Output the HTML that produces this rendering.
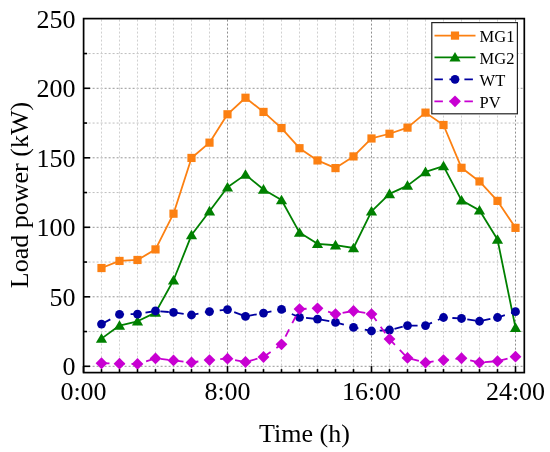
<!DOCTYPE html>
<html><head><meta charset="utf-8"><title>Load power</title>
<style>
html,body{margin:0;padding:0;background:#fff;}
body{width:550px;height:452px;overflow:hidden;}
svg{display:block;}
</style></head><body>
<svg width="550" height="452" viewBox="0 0 550 452">
<rect width="550" height="452" fill="#fff"/>
<line x1="84.6" y1="366.3" x2="523.3" y2="366.3" stroke="#969696" stroke-width="1" stroke-dasharray="2 2"/>
<line x1="84.6" y1="331.55" x2="523.3" y2="331.55" stroke="#bebebe" stroke-width="1" stroke-dasharray="2 2"/>
<line x1="84.6" y1="296.8" x2="523.3" y2="296.8" stroke="#969696" stroke-width="1" stroke-dasharray="2 2"/>
<line x1="84.6" y1="262.05" x2="523.3" y2="262.05" stroke="#bebebe" stroke-width="1" stroke-dasharray="2 2"/>
<line x1="84.6" y1="227.3" x2="523.3" y2="227.3" stroke="#969696" stroke-width="1" stroke-dasharray="2 2"/>
<line x1="84.6" y1="192.55" x2="523.3" y2="192.55" stroke="#bebebe" stroke-width="1" stroke-dasharray="2 2"/>
<line x1="84.6" y1="157.8" x2="523.3" y2="157.8" stroke="#969696" stroke-width="1" stroke-dasharray="2 2"/>
<line x1="84.6" y1="123.05" x2="523.3" y2="123.05" stroke="#bebebe" stroke-width="1" stroke-dasharray="2 2"/>
<line x1="84.6" y1="88.3" x2="523.3" y2="88.3" stroke="#969696" stroke-width="1" stroke-dasharray="2 2"/>
<line x1="84.6" y1="53.55" x2="523.3" y2="53.55" stroke="#bebebe" stroke-width="1" stroke-dasharray="2 2"/>
<line x1="101.5" y1="19.6" x2="101.5" y2="371.6" stroke="#d0d0d0" stroke-width="1" stroke-dasharray="2 2"/>
<line x1="119.5" y1="19.6" x2="119.5" y2="371.6" stroke="#d0d0d0" stroke-width="1" stroke-dasharray="2 2"/>
<line x1="137.5" y1="19.6" x2="137.5" y2="371.6" stroke="#d0d0d0" stroke-width="1" stroke-dasharray="2 2"/>
<line x1="155.5" y1="19.6" x2="155.5" y2="371.6" stroke="#d0d0d0" stroke-width="1" stroke-dasharray="2 2"/>
<line x1="173.5" y1="19.6" x2="173.5" y2="371.6" stroke="#d0d0d0" stroke-width="1" stroke-dasharray="2 2"/>
<line x1="191.5" y1="19.6" x2="191.5" y2="371.6" stroke="#d0d0d0" stroke-width="1" stroke-dasharray="2 2"/>
<line x1="209.5" y1="19.6" x2="209.5" y2="371.6" stroke="#d0d0d0" stroke-width="1" stroke-dasharray="2 2"/>
<line x1="227.5" y1="19.6" x2="227.5" y2="371.6" stroke="#8f8f8f" stroke-width="1" stroke-dasharray="2 2"/>
<line x1="245.5" y1="19.6" x2="245.5" y2="371.6" stroke="#d0d0d0" stroke-width="1" stroke-dasharray="2 2"/>
<line x1="263.5" y1="19.6" x2="263.5" y2="371.6" stroke="#d0d0d0" stroke-width="1" stroke-dasharray="2 2"/>
<line x1="281.5" y1="19.6" x2="281.5" y2="371.6" stroke="#d0d0d0" stroke-width="1" stroke-dasharray="2 2"/>
<line x1="299.5" y1="19.6" x2="299.5" y2="371.6" stroke="#d0d0d0" stroke-width="1" stroke-dasharray="2 2"/>
<line x1="317.5" y1="19.6" x2="317.5" y2="371.6" stroke="#d0d0d0" stroke-width="1" stroke-dasharray="2 2"/>
<line x1="335.5" y1="19.6" x2="335.5" y2="371.6" stroke="#d0d0d0" stroke-width="1" stroke-dasharray="2 2"/>
<line x1="353.5" y1="19.6" x2="353.5" y2="371.6" stroke="#d0d0d0" stroke-width="1" stroke-dasharray="2 2"/>
<line x1="371.5" y1="19.6" x2="371.5" y2="371.6" stroke="#8f8f8f" stroke-width="1" stroke-dasharray="2 2"/>
<line x1="389.5" y1="19.6" x2="389.5" y2="371.6" stroke="#d0d0d0" stroke-width="1" stroke-dasharray="2 2"/>
<line x1="407.5" y1="19.6" x2="407.5" y2="371.6" stroke="#d0d0d0" stroke-width="1" stroke-dasharray="2 2"/>
<line x1="425.5" y1="19.6" x2="425.5" y2="371.6" stroke="#d0d0d0" stroke-width="1" stroke-dasharray="2 2"/>
<line x1="443.5" y1="19.6" x2="443.5" y2="371.6" stroke="#d0d0d0" stroke-width="1" stroke-dasharray="2 2"/>
<line x1="461.5" y1="19.6" x2="461.5" y2="371.6" stroke="#d0d0d0" stroke-width="1" stroke-dasharray="2 2"/>
<line x1="479.5" y1="19.6" x2="479.5" y2="371.6" stroke="#d0d0d0" stroke-width="1" stroke-dasharray="2 2"/>
<line x1="497.5" y1="19.6" x2="497.5" y2="371.6" stroke="#d0d0d0" stroke-width="1" stroke-dasharray="2 2"/>
<line x1="515.5" y1="19.6" x2="515.5" y2="371.6" stroke="#8f8f8f" stroke-width="1" stroke-dasharray="2 2"/>
<polyline points="101.5,268.03 119.5,260.94 137.5,259.97 155.5,249.4 173.5,213.68 191.5,157.94 209.5,142.65 227.5,114.29 245.5,97.75 263.5,111.93 281.5,128.05 299.5,148.21 317.5,160.44 335.5,168.09 353.5,156.41 371.5,138.48 389.5,133.75 407.5,127.64 425.5,112.63 443.5,125 461.5,167.81 479.5,181.43 497.5,200.89 515.5,227.86" fill="none" stroke="#fc8012" stroke-width="1.8" stroke-linejoin="round"/>
<rect x="97.4" y="263.93" width="8.2" height="8.2" fill="#fc8012"/>
<rect x="115.4" y="256.84" width="8.2" height="8.2" fill="#fc8012"/>
<rect x="133.4" y="255.87" width="8.2" height="8.2" fill="#fc8012"/>
<rect x="151.4" y="245.3" width="8.2" height="8.2" fill="#fc8012"/>
<rect x="169.4" y="209.58" width="8.2" height="8.2" fill="#fc8012"/>
<rect x="187.4" y="153.84" width="8.2" height="8.2" fill="#fc8012"/>
<rect x="205.4" y="138.55" width="8.2" height="8.2" fill="#fc8012"/>
<rect x="223.4" y="110.19" width="8.2" height="8.2" fill="#fc8012"/>
<rect x="241.4" y="93.65" width="8.2" height="8.2" fill="#fc8012"/>
<rect x="259.4" y="107.83" width="8.2" height="8.2" fill="#fc8012"/>
<rect x="277.4" y="123.95" width="8.2" height="8.2" fill="#fc8012"/>
<rect x="295.4" y="144.11" width="8.2" height="8.2" fill="#fc8012"/>
<rect x="313.4" y="156.34" width="8.2" height="8.2" fill="#fc8012"/>
<rect x="331.4" y="163.99" width="8.2" height="8.2" fill="#fc8012"/>
<rect x="349.4" y="152.31" width="8.2" height="8.2" fill="#fc8012"/>
<rect x="367.4" y="134.38" width="8.2" height="8.2" fill="#fc8012"/>
<rect x="385.4" y="129.65" width="8.2" height="8.2" fill="#fc8012"/>
<rect x="403.4" y="123.54" width="8.2" height="8.2" fill="#fc8012"/>
<rect x="421.4" y="108.53" width="8.2" height="8.2" fill="#fc8012"/>
<rect x="439.4" y="120.9" width="8.2" height="8.2" fill="#fc8012"/>
<rect x="457.4" y="163.71" width="8.2" height="8.2" fill="#fc8012"/>
<rect x="475.4" y="177.33" width="8.2" height="8.2" fill="#fc8012"/>
<rect x="493.4" y="196.79" width="8.2" height="8.2" fill="#fc8012"/>
<rect x="511.4" y="223.76" width="8.2" height="8.2" fill="#fc8012"/>
<polyline points="101.5,338.64 119.5,325.57 137.5,321.26 155.5,312.65 173.5,280.26 191.5,235.08 209.5,211.18 227.5,187.27 245.5,174.62 263.5,189.49 281.5,200.06 299.5,232.58 317.5,243.84 335.5,245.23 353.5,248.01 371.5,211.32 389.5,193.94 407.5,185.6 425.5,171.98 443.5,166.14 461.5,200.33 479.5,210.34 497.5,239.53 515.5,327.66" fill="none" stroke="#008000" stroke-width="1.8" stroke-linejoin="round"/>
<polygon points="101.5,333.26 107.1,342.86 95.9,342.86" fill="#008000"/>
<polygon points="119.5,320.2 125.1,329.8 113.9,329.8" fill="#008000"/>
<polygon points="137.5,315.89 143.1,325.49 131.9,325.49" fill="#008000"/>
<polygon points="155.5,307.27 161.1,316.87 149.9,316.87" fill="#008000"/>
<polygon points="173.5,274.88 179.1,284.48 167.9,284.48" fill="#008000"/>
<polygon points="191.5,229.71 197.1,239.31 185.9,239.31" fill="#008000"/>
<polygon points="209.5,205.8 215.1,215.4 203.9,215.4" fill="#008000"/>
<polygon points="227.5,181.89 233.1,191.49 221.9,191.49" fill="#008000"/>
<polygon points="245.5,169.24 251.1,178.84 239.9,178.84" fill="#008000"/>
<polygon points="263.5,184.12 269.1,193.72 257.9,193.72" fill="#008000"/>
<polygon points="281.5,194.68 287.1,204.28 275.9,204.28" fill="#008000"/>
<polygon points="299.5,227.21 305.1,236.81 293.9,236.81" fill="#008000"/>
<polygon points="317.5,238.47 323.1,248.06 311.9,248.06" fill="#008000"/>
<polygon points="335.5,239.86 341.1,249.46 329.9,249.46" fill="#008000"/>
<polygon points="353.5,242.64 359.1,252.24 347.9,252.24" fill="#008000"/>
<polygon points="371.5,205.94 377.1,215.54 365.9,215.54" fill="#008000"/>
<polygon points="389.5,188.56 395.1,198.16 383.9,198.16" fill="#008000"/>
<polygon points="407.5,180.22 413.1,189.82 401.9,189.82" fill="#008000"/>
<polygon points="425.5,166.6 431.1,176.2 419.9,176.2" fill="#008000"/>
<polygon points="443.5,160.76 449.1,170.36 437.9,170.36" fill="#008000"/>
<polygon points="461.5,194.96 467.1,204.56 455.9,204.56" fill="#008000"/>
<polygon points="479.5,204.97 485.1,214.57 473.9,214.57" fill="#008000"/>
<polygon points="497.5,234.16 503.1,243.76 491.9,243.76" fill="#008000"/>
<polygon points="515.5,322.28 521.1,331.88 509.9,331.88" fill="#008000"/>
<polyline points="101.5,324.04 119.5,314.45 137.5,314.04 155.5,310.98 173.5,312.37 191.5,315.01 209.5,311.53 227.5,309.59 245.5,316.4 263.5,313.06 281.5,309.45 299.5,317.37 317.5,319.04 335.5,322.38 353.5,327.38 371.5,330.99 389.5,330.02 407.5,325.57 425.5,325.57 443.5,317.51 461.5,318.48 479.5,321.26 497.5,317.51 515.5,311.67" fill="none" stroke="#0000a0" stroke-width="1.8" stroke-dasharray="8.5 6.5" stroke-dashoffset="13.5"/>
<circle cx="101.5" cy="324.04" r="4.4" fill="#0000a0"/>
<circle cx="119.5" cy="314.45" r="4.4" fill="#0000a0"/>
<circle cx="137.5" cy="314.04" r="4.4" fill="#0000a0"/>
<circle cx="155.5" cy="310.98" r="4.4" fill="#0000a0"/>
<circle cx="173.5" cy="312.37" r="4.4" fill="#0000a0"/>
<circle cx="191.5" cy="315.01" r="4.4" fill="#0000a0"/>
<circle cx="209.5" cy="311.53" r="4.4" fill="#0000a0"/>
<circle cx="227.5" cy="309.59" r="4.4" fill="#0000a0"/>
<circle cx="245.5" cy="316.4" r="4.4" fill="#0000a0"/>
<circle cx="263.5" cy="313.06" r="4.4" fill="#0000a0"/>
<circle cx="281.5" cy="309.45" r="4.4" fill="#0000a0"/>
<circle cx="299.5" cy="317.37" r="4.4" fill="#0000a0"/>
<circle cx="317.5" cy="319.04" r="4.4" fill="#0000a0"/>
<circle cx="335.5" cy="322.38" r="4.4" fill="#0000a0"/>
<circle cx="353.5" cy="327.38" r="4.4" fill="#0000a0"/>
<circle cx="371.5" cy="330.99" r="4.4" fill="#0000a0"/>
<circle cx="389.5" cy="330.02" r="4.4" fill="#0000a0"/>
<circle cx="407.5" cy="325.57" r="4.4" fill="#0000a0"/>
<circle cx="425.5" cy="325.57" r="4.4" fill="#0000a0"/>
<circle cx="443.5" cy="317.51" r="4.4" fill="#0000a0"/>
<circle cx="461.5" cy="318.48" r="4.4" fill="#0000a0"/>
<circle cx="479.5" cy="321.26" r="4.4" fill="#0000a0"/>
<circle cx="497.5" cy="317.51" r="4.4" fill="#0000a0"/>
<circle cx="515.5" cy="311.67" r="4.4" fill="#0000a0"/>
<polyline points="101.5,363.24 119.5,363.66 137.5,363.94 155.5,358.38 173.5,360.46 191.5,362.41 209.5,360.05 227.5,358.66 245.5,361.99 263.5,356.99 281.5,344.34 299.5,309.03 317.5,308.34 335.5,314.04 353.5,310.98 371.5,314.04 389.5,339.06 407.5,357.96 425.5,362.55 443.5,360.05 461.5,358.24 479.5,362.55 497.5,361.16 515.5,356.71" fill="none" stroke="#c800d2" stroke-width="1.8" stroke-dasharray="8 7"/>
<polygon points="101.5,357.34 107.4,363.24 101.5,369.14 95.6,363.24" fill="#c800d2"/>
<polygon points="119.5,357.76 125.4,363.66 119.5,369.56 113.6,363.66" fill="#c800d2"/>
<polygon points="137.5,358.04 143.4,363.94 137.5,369.84 131.6,363.94" fill="#c800d2"/>
<polygon points="155.5,352.48 161.4,358.38 155.5,364.28 149.6,358.38" fill="#c800d2"/>
<polygon points="173.5,354.56 179.4,360.46 173.5,366.36 167.6,360.46" fill="#c800d2"/>
<polygon points="191.5,356.51 197.4,362.41 191.5,368.31 185.6,362.41" fill="#c800d2"/>
<polygon points="209.5,354.15 215.4,360.05 209.5,365.94 203.6,360.05" fill="#c800d2"/>
<polygon points="227.5,352.76 233.4,358.66 227.5,364.56 221.6,358.66" fill="#c800d2"/>
<polygon points="245.5,356.09 251.4,361.99 245.5,367.89 239.6,361.99" fill="#c800d2"/>
<polygon points="263.5,351.09 269.4,356.99 263.5,362.89 257.6,356.99" fill="#c800d2"/>
<polygon points="281.5,338.44 287.4,344.34 281.5,350.24 275.6,344.34" fill="#c800d2"/>
<polygon points="299.5,303.13 305.4,309.03 299.5,314.93 293.6,309.03" fill="#c800d2"/>
<polygon points="317.5,302.44 323.4,308.34 317.5,314.24 311.6,308.34" fill="#c800d2"/>
<polygon points="335.5,308.14 341.4,314.04 335.5,319.94 329.6,314.04" fill="#c800d2"/>
<polygon points="353.5,305.08 359.4,310.98 353.5,316.88 347.6,310.98" fill="#c800d2"/>
<polygon points="371.5,308.14 377.4,314.04 371.5,319.94 365.6,314.04" fill="#c800d2"/>
<polygon points="389.5,333.16 395.4,339.06 389.5,344.96 383.6,339.06" fill="#c800d2"/>
<polygon points="407.5,352.06 413.4,357.96 407.5,363.86 401.6,357.96" fill="#c800d2"/>
<polygon points="425.5,356.65 431.4,362.55 425.5,368.45 419.6,362.55" fill="#c800d2"/>
<polygon points="443.5,354.15 449.4,360.05 443.5,365.94 437.6,360.05" fill="#c800d2"/>
<polygon points="461.5,352.34 467.4,358.24 461.5,364.14 455.6,358.24" fill="#c800d2"/>
<polygon points="479.5,356.65 485.4,362.55 479.5,368.45 473.6,362.55" fill="#c800d2"/>
<polygon points="497.5,355.26 503.4,361.16 497.5,367.06 491.6,361.16" fill="#c800d2"/>
<polygon points="515.5,350.81 521.4,356.71 515.5,362.61 509.6,356.71" fill="#c800d2"/>
<rect x="83.6" y="18.6" width="440.7" height="354" fill="none" stroke="#000" stroke-width="1.7"/>
<line x1="83.6" y1="366.3" x2="90.1" y2="366.3" stroke="#000" stroke-width="1.6"/>
<line x1="83.6" y1="331.55" x2="87.1" y2="331.55" stroke="#000" stroke-width="1.6"/>
<line x1="83.6" y1="296.8" x2="90.1" y2="296.8" stroke="#000" stroke-width="1.6"/>
<line x1="83.6" y1="262.05" x2="87.1" y2="262.05" stroke="#000" stroke-width="1.6"/>
<line x1="83.6" y1="227.3" x2="90.1" y2="227.3" stroke="#000" stroke-width="1.6"/>
<line x1="83.6" y1="192.55" x2="87.1" y2="192.55" stroke="#000" stroke-width="1.6"/>
<line x1="83.6" y1="157.8" x2="90.1" y2="157.8" stroke="#000" stroke-width="1.6"/>
<line x1="83.6" y1="123.05" x2="87.1" y2="123.05" stroke="#000" stroke-width="1.6"/>
<line x1="83.6" y1="88.3" x2="90.1" y2="88.3" stroke="#000" stroke-width="1.6"/>
<line x1="83.6" y1="53.55" x2="87.1" y2="53.55" stroke="#000" stroke-width="1.6"/>
<line x1="83.5" y1="372.6" x2="83.5" y2="366.1" stroke="#000" stroke-width="1.6"/>
<line x1="101.5" y1="372.6" x2="101.5" y2="369.1" stroke="#000" stroke-width="1.6"/>
<line x1="119.5" y1="372.6" x2="119.5" y2="369.1" stroke="#000" stroke-width="1.6"/>
<line x1="137.5" y1="372.6" x2="137.5" y2="369.1" stroke="#000" stroke-width="1.6"/>
<line x1="155.5" y1="372.6" x2="155.5" y2="369.1" stroke="#000" stroke-width="1.6"/>
<line x1="173.5" y1="372.6" x2="173.5" y2="369.1" stroke="#000" stroke-width="1.6"/>
<line x1="191.5" y1="372.6" x2="191.5" y2="369.1" stroke="#000" stroke-width="1.6"/>
<line x1="209.5" y1="372.6" x2="209.5" y2="369.1" stroke="#000" stroke-width="1.6"/>
<line x1="227.5" y1="372.6" x2="227.5" y2="366.1" stroke="#000" stroke-width="1.6"/>
<line x1="245.5" y1="372.6" x2="245.5" y2="369.1" stroke="#000" stroke-width="1.6"/>
<line x1="263.5" y1="372.6" x2="263.5" y2="369.1" stroke="#000" stroke-width="1.6"/>
<line x1="281.5" y1="372.6" x2="281.5" y2="369.1" stroke="#000" stroke-width="1.6"/>
<line x1="299.5" y1="372.6" x2="299.5" y2="369.1" stroke="#000" stroke-width="1.6"/>
<line x1="317.5" y1="372.6" x2="317.5" y2="369.1" stroke="#000" stroke-width="1.6"/>
<line x1="335.5" y1="372.6" x2="335.5" y2="369.1" stroke="#000" stroke-width="1.6"/>
<line x1="353.5" y1="372.6" x2="353.5" y2="369.1" stroke="#000" stroke-width="1.6"/>
<line x1="371.5" y1="372.6" x2="371.5" y2="366.1" stroke="#000" stroke-width="1.6"/>
<line x1="389.5" y1="372.6" x2="389.5" y2="369.1" stroke="#000" stroke-width="1.6"/>
<line x1="407.5" y1="372.6" x2="407.5" y2="369.1" stroke="#000" stroke-width="1.6"/>
<line x1="425.5" y1="372.6" x2="425.5" y2="369.1" stroke="#000" stroke-width="1.6"/>
<line x1="443.5" y1="372.6" x2="443.5" y2="369.1" stroke="#000" stroke-width="1.6"/>
<line x1="461.5" y1="372.6" x2="461.5" y2="369.1" stroke="#000" stroke-width="1.6"/>
<line x1="479.5" y1="372.6" x2="479.5" y2="369.1" stroke="#000" stroke-width="1.6"/>
<line x1="497.5" y1="372.6" x2="497.5" y2="369.1" stroke="#000" stroke-width="1.6"/>
<line x1="515.5" y1="372.6" x2="515.5" y2="366.1" stroke="#000" stroke-width="1.6"/>
<g font-family="Liberation Serif, serif" font-size="26" fill="#000"><text x="75.5" y="375.1" text-anchor="end">0</text>
<text x="75.5" y="305.6" text-anchor="end">50</text>
<text x="75.5" y="236.1" text-anchor="end">100</text>
<text x="75.5" y="166.6" text-anchor="end">150</text>
<text x="75.5" y="97.1" text-anchor="end">200</text>
<text x="75.5" y="27.6" text-anchor="end">250</text>
<text x="83.5" y="400" text-anchor="middle">0:00</text>
<text x="227.5" y="400" text-anchor="middle">8:00</text>
<text x="371.5" y="400" text-anchor="middle">16:00</text>
<text x="515.5" y="400" text-anchor="middle">24:00</text>
<text x="304.5" y="442.4" text-anchor="middle">Time (h)</text>
<text transform="translate(27.7,195) rotate(-90)" text-anchor="middle">Load power (kW)</text></g>
<rect x="431.8" y="22.6" width="85.6" height="91.2" fill="#fff" stroke="#222" stroke-width="1.2"/>
<line x1="434.5" y1="35.6" x2="475.5" y2="35.6" stroke="#fc8012" stroke-width="1.8"/>
<rect x="450.9" y="31.5" width="8.2" height="8.2" fill="#fc8012"/>
<text x="479.6" y="42.1" font-family="Liberation Serif, serif" font-size="16.5" fill="#000">MG1</text>
<line x1="434.5" y1="57.4" x2="475.5" y2="57.4" stroke="#008000" stroke-width="1.8"/>
<polygon points="455,52.02 460.6,61.62 449.4,61.62" fill="#008000"/>
<text x="479.6" y="63.9" font-family="Liberation Serif, serif" font-size="16.5" fill="#000">MG2</text>
<line x1="434.4" y1="79.3" x2="475.5" y2="79.3" stroke="#0000a0" stroke-width="1.8" stroke-dasharray="8.5 6.5"/>
<circle cx="455" cy="79.3" r="4.4" fill="#0000a0"/>
<text x="479.6" y="85.9" font-family="Liberation Serif, serif" font-size="16.5" fill="#000">WT</text>
<line x1="434.4" y1="101.3" x2="475.5" y2="101.3" stroke="#c800d2" stroke-width="1.8" stroke-dasharray="8.5 6.5"/>
<polygon points="455,95.4 460.9,101.3 455,107.2 449.1,101.3" fill="#c800d2"/>
<text x="479.6" y="107.8" font-family="Liberation Serif, serif" font-size="16.5" fill="#000">PV</text>
</svg>
</body></html>
